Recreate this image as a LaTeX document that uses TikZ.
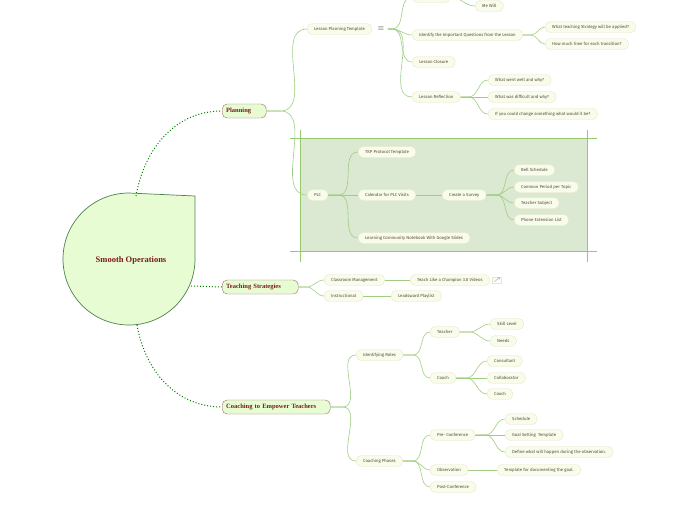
\documentclass[tikz,border=0pt]{standalone}
\usepackage{fontspec}
\setsansfont{Fira Sans}
\newfontfamily\topicfont{Liberation Serif}
\usetikzlibrary{positioning,calc}
\definecolor{leaffill}{RGB}{248,252,234}
\definecolor{leafline}{RGB}{236,230,196}
\definecolor{leaftext}{RGB}{90,72,60}
\definecolor{mainfill}{RGB}{232,252,212}
\definecolor{mainline}{RGB}{150,110,100}
\definecolor{maintext}{RGB}{122,26,26}
\definecolor{linkgreen}{RGB}{160,205,130}
\definecolor{boxfill}{RGB}{220,233,210}
\definecolor{boxline}{RGB}{150,200,110}
\tikzset{
  leaf/.style={draw=leafline,fill=leaffill,rounded corners=5pt,anchor=west,minimum height=11pt,inner xsep=7pt,inner ysep=0pt,text=leaftext,font=\sffamily\fontsize{4.3}{5}\selectfont},
  main/.style={draw=mainline,fill=mainfill,anchor=west,minimum height=14pt,inner xsep=4pt,text=maintext,font=\topicfont\bfseries\fontsize{6.5}{7}\selectfont,rounded corners=5pt,align=left,text width=#1},
  link/.style={draw=linkgreen,line width=0.6pt},
  dots/.style={draw=green!50!black,dotted,line width=1pt}
}
\begin{document}
\begin{tikzpicture}[x=1pt,y=-1pt]
    \useasboundingbox (0,0) rectangle (697,520);
    % PLC boundary
    \fill[boxfill] (300,138) rectangle (587,251);
    \draw[boxline,line width=0.8pt] (290,138) -- (597,138) (290,251) -- (597,251)
        (300,130) -- (300,262) (587,130) -- (587,262);

    % Central topic
    \fill[mainfill,draw=green!30!black!70,line width=0.7pt] (195,196) -- (195,259) arc[start angle=0,end angle=270,radius=66] -- cycle;
    \node[text=maintext,font=\topicfont\bfseries\fontsize{8.5}{9}\selectfont] (root) at (131,260) {Smooth Operations};
    \coordinate (rtop) at (136,196);
    \coordinate (rright) at (191,286);
    \coordinate (rbot) at (137,325);

    % Main branches
    \node[main=36pt] (plan) at (222,111) {Planning};
    \node[main=68pt] (teach) at (222,287) {Teaching Strategies};
    \node[main=100pt] (coach) at (222,407) {Coaching to Empower Teachers};
    \draw[dots] (rtop) to[out=80,in=180] (plan.west);
    \draw[dots] (rright) -- (teach.west);
    \draw[dots] (rbot) to[out=-80,in=180] (coach.west);

    % Planning
    \node[leaf] (lpt) at (307,29) {Lesson Planning Template};
    \node[text=leaftext,font=\sffamily\fontsize{8}{8}\selectfont] (menu) at (381,29) {$\equiv$};
    \node[leaf,minimum width=38pt] (top) at (412,-3) {};
    \node[leaf] (will) at (475,6) {Me Will};
    \node[leaf] (iq) at (412,35) {Identify the Important Questions from the Lesson};
    \node[leaf] (strat) at (545,27) {What teaching Strategy will be applied?};
    \node[leaf] (time) at (545,44) {How much time for each transition?};
    \node[leaf] (close) at (412,62) {Lesson Closure};
    \node[leaf] (refl) at (412,97) {Lesson Reflection};
    \node[leaf] (well) at (488,80) {What went well and why?};
    \node[leaf] (diff) at (488,97) {What was difficult and why?};
    \node[leaf] (change) at (488,114) {If you could change something what would it be?};
    \node[leaf] (plc) at (307,195) {PLC};
    \node[leaf] (tkp) at (358,152) {TKP Protocol Template};
    \node[leaf] (cal) at (358,195) {Calendar for PLC Visits};
    \node[leaf] (survey) at (442,195) {Create a Survey};
    \node[leaf] (bell) at (514,170) {Bell Schedule};
    \node[leaf] (period) at (514,187) {Common Period per Topic};
    \node[leaf] (subj) at (514,203) {Teacher Subject};
    \node[leaf] (phone) at (514,220) {Phone Extension List};
    \node[leaf] (lcn) at (358,238) {Learning Community Notebook With Google Slides};

    \draw[link] (plan.east) -- ++(14,0) to[out=0,in=180] (lpt.west);
    \draw[link] (plan.east) -- ++(14,0) to[out=0,in=180] (plc.west);
    \draw[link] (menu.east) -- ++(4,0) to[out=0,in=180] (top.west);
    \draw[link] (menu.east) -- ++(4,0) to[out=0,in=180] (iq.west);
    \draw[link] (menu.east) -- ++(4,0) to[out=0,in=180] (close.west);
    \draw[link] (menu.east) -- ++(4,0) to[out=0,in=180] (refl.west);
    \draw[link] (top.east) to[out=0,in=180] (will.west);
    \draw[link] (iq.east) -- ++(8,0) to[out=0,in=180] (strat.west);
    \draw[link] (iq.east) -- ++(8,0) to[out=0,in=180] (time.west);
    \draw[link] (refl.east) -- ++(8,0) to[out=0,in=180] (well.west);
    \draw[link] (refl.east) -- (diff.west);
    \draw[link] (refl.east) -- ++(8,0) to[out=0,in=180] (change.west);
    \draw[link] (plc.east) -- ++(10,0) to[out=0,in=180] (tkp.west);
    \draw[link] (plc.east) -- (cal.west);
    \draw[link] (plc.east) -- ++(10,0) to[out=0,in=180] (lcn.west);
    \draw[link] (cal.east) -- (survey.west);
    \foreach \n in {bell,period,subj,phone}
        \draw[link] (survey.east) -- ++(10,0) to[out=0,in=180] (\n.west);

    % Teaching Strategies
    \node[leaf] (cm) at (324,280) {Classroom Management};
    \node[leaf] (tlac) at (410,280) {Teach Like a Champion 3.0 Videos};
    \node[draw=leafline,text=leaftext,inner sep=1pt,font=\sffamily\fontsize{4}{5}\selectfont] (ext) at (497,280) {$\nearrow$};
    \node[leaf] (instr) at (324,296) {Instructional};
    \node[leaf] (l4w) at (391,296) {Lead4ward Playlist};
    \draw[link] (teach.east) -- ++(8,0) to[out=0,in=180] (cm.west);
    \draw[link] (teach.east) -- ++(8,0) to[out=0,in=180] (instr.west);
    \draw[link] (cm.east) -- (tlac.west);
    \draw[link] (instr.east) -- (l4w.west);

    % Coaching to Empower Teachers
    \node[leaf] (roles) at (356,355) {Identifying Roles};
    \node[leaf] (tchr) at (430,332) {Teacher};
    \node[leaf] (skill) at (490,324) {Skill Level};
    \node[leaf] (needs) at (490,341) {Needs};
    \node[leaf] (cch) at (430,378) {Coach};
    \node[leaf] (cons) at (487,361) {Consultant};
    \node[leaf] (collab) at (487,378) {Collaborator};
    \node[leaf] (cch2) at (487,394) {Coach};
    \node[leaf] (phases) at (356,461) {Coaching Phases};
    \node[leaf] (pre) at (430,435) {Pre- Conference};
    \node[leaf] (sched) at (505,419) {Schedule};
    \node[leaf] (goal) at (505,435) {Goal Setting\ \ Template};
    \node[leaf] (define) at (505,452) {Define what will happen during the observation.};
    \node[leaf] (obs) at (430,470) {Observation};
    \node[leaf] (tmpl) at (497,470) {Template for documenting the goal.};
    \node[leaf] (post) at (430,487) {Post-Conference};
    \draw[link] (coach.east) -- ++(12,0) to[out=0,in=180] (roles.west);
    \draw[link] (coach.east) -- ++(12,0) to[out=0,in=180] (phases.west);
    \draw[link] (roles.east) -- ++(10,0) to[out=0,in=180] (tchr.west);
    \draw[link] (roles.east) -- ++(10,0) to[out=0,in=180] (cch.west);
    \draw[link] (tchr.east) -- ++(10,0) to[out=0,in=180] (skill.west);
    \draw[link] (tchr.east) -- ++(10,0) to[out=0,in=180] (needs.west);
    \draw[link] (cch.east) -- ++(10,0) to[out=0,in=180] (cons.west);
    \draw[link] (cch.east) -- (collab.west);
    \draw[link] (cch.east) -- ++(10,0) to[out=0,in=180] (cch2.west);
    \draw[link] (phases.east) -- ++(10,0) to[out=0,in=180] (pre.west);
    \draw[link] (phases.east) -- ++(10,0) to[out=0,in=180] (obs.west);
    \draw[link] (phases.east) -- ++(10,0) to[out=0,in=180] (post.west);
    \draw[link] (pre.east) -- ++(10,0) to[out=0,in=180] (sched.west);
    \draw[link] (pre.east) -- (goal.west);
    \draw[link] (pre.east) -- ++(10,0) to[out=0,in=180] (define.west);
    \draw[link] (obs.east) -- (tmpl.west);
\end{tikzpicture}
\end{document}
